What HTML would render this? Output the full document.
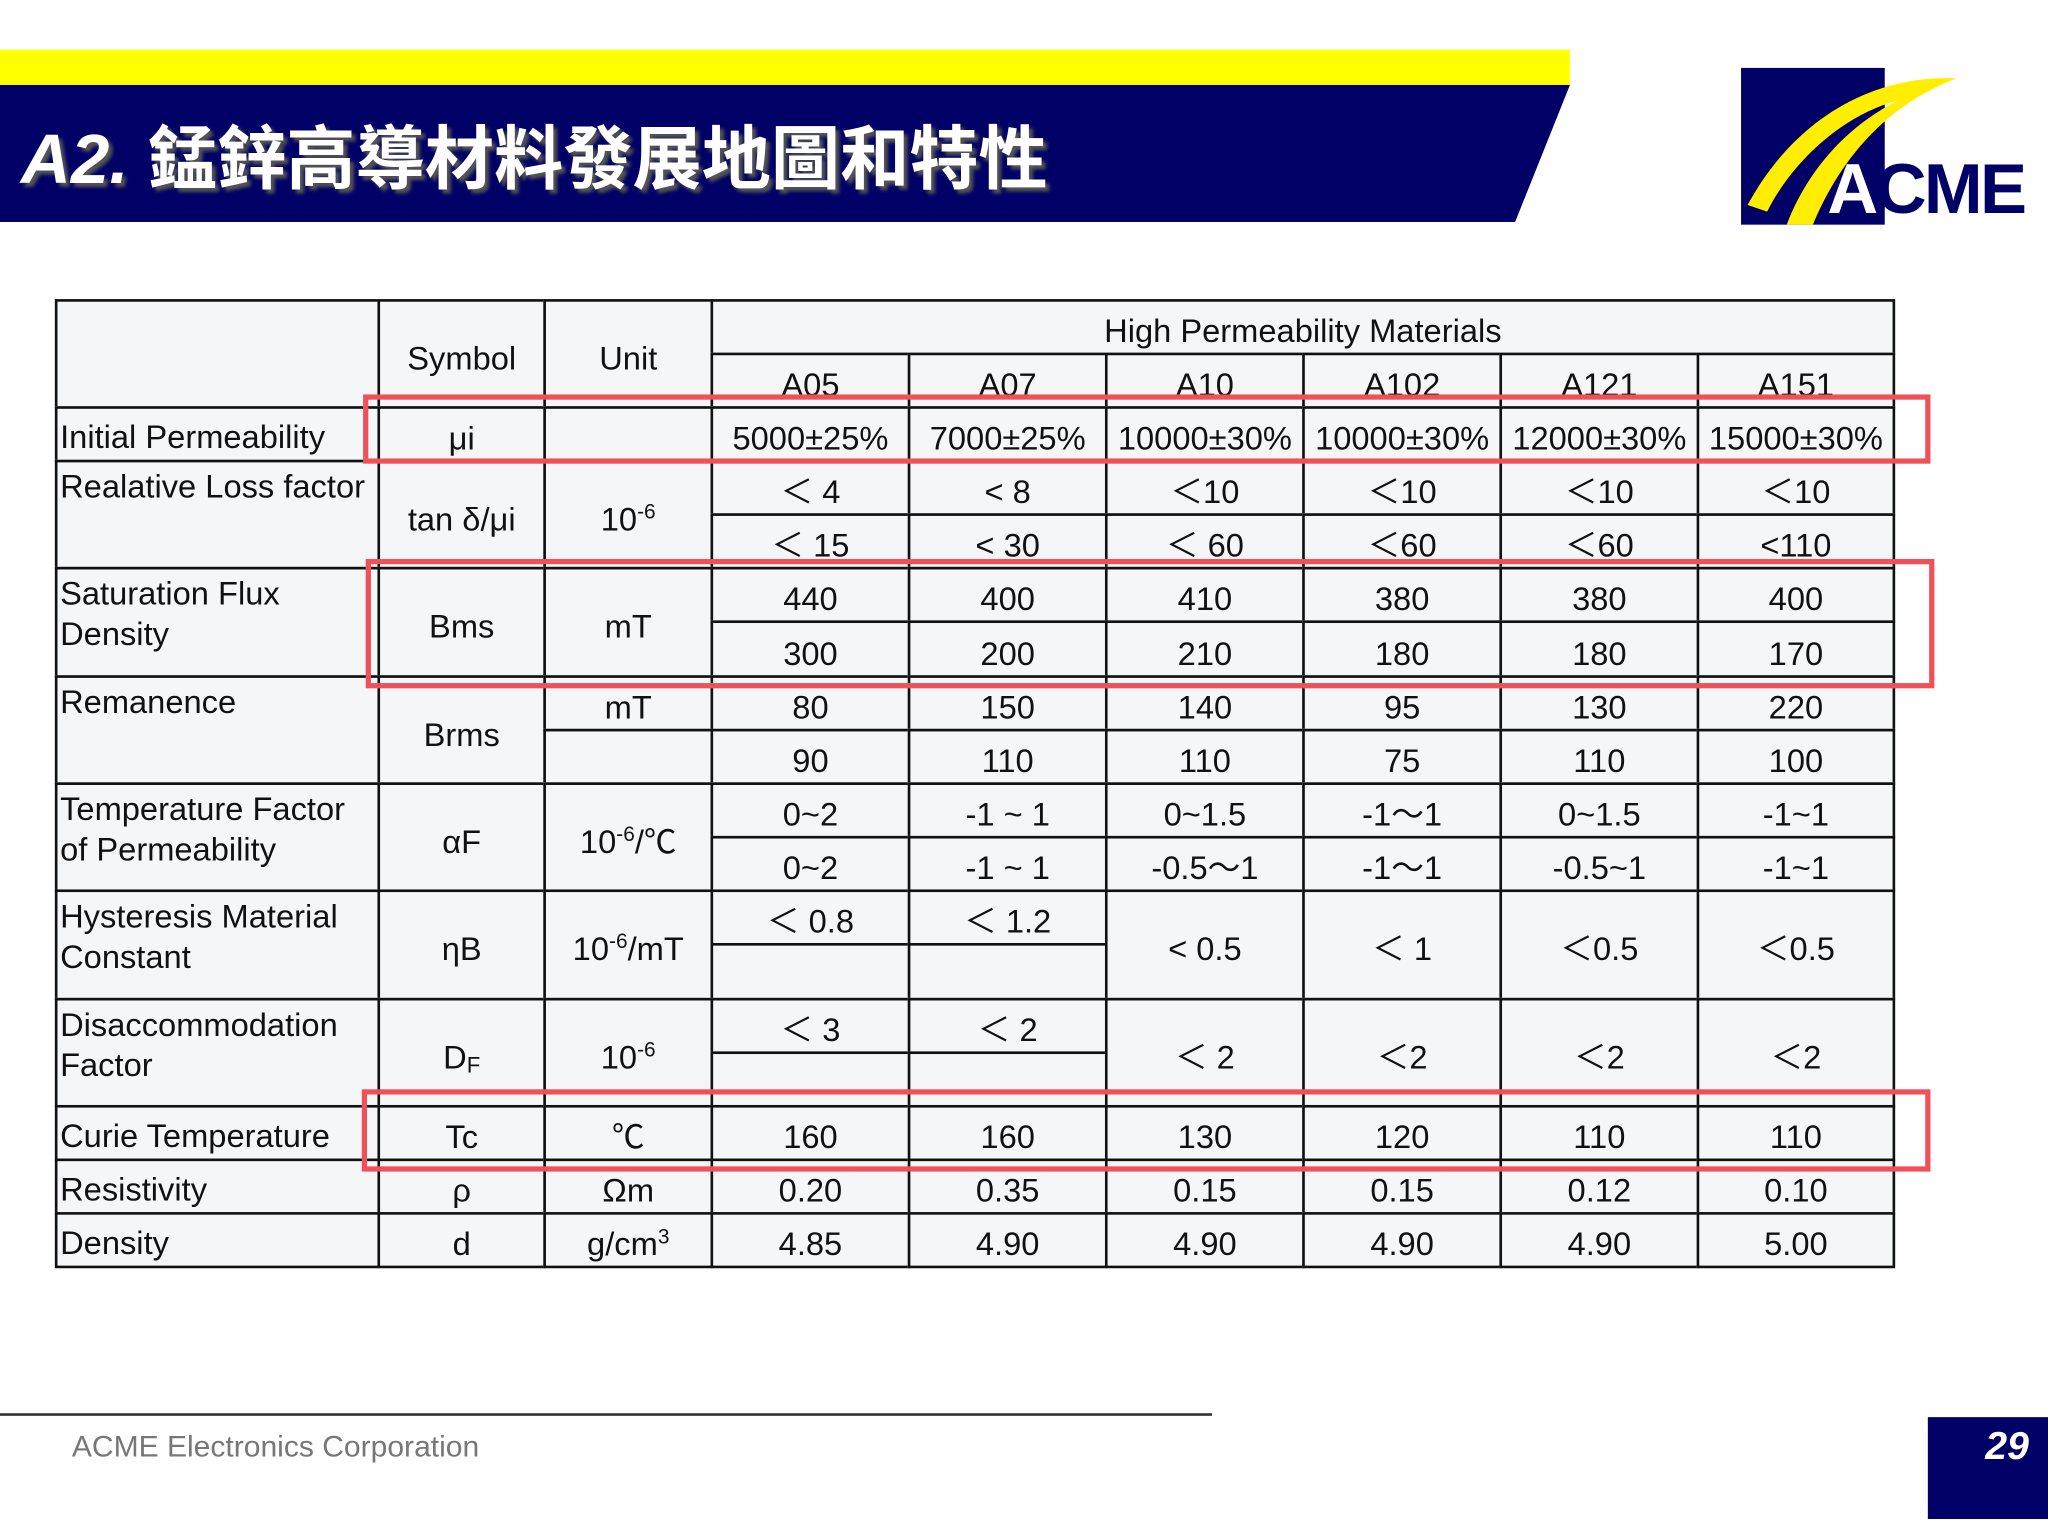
<!DOCTYPE html>
<html><head><meta charset="utf-8"><style>
html,body{margin:0;padding:0;background:#fff;width:2048px;height:1536px;overflow:hidden}
#s{position:absolute;left:0;top:0;width:1568px;height:1176px;transform:scale(1.306122);transform-origin:0 0;font-family:"Liberation Sans","Noto Sans CJK TC",sans-serif}
.c{position:absolute;box-sizing:border-box;border:2px solid #111;background:#f4f6f8;display:flex;justify-content:center;align-items:center;font-size:25px;color:#111;padding-top:8px;line-height:31px;white-space:nowrap;overflow:hidden}
.c.l{justify-content:flex-start;align-items:flex-start;padding:4px 0 0 2px;white-space:normal}
.c.l1{justify-content:flex-start;padding:6px 0 0 2px}
.r{position:absolute;border:4px solid #f05058;box-sizing:border-box}
sup{font-size:16px;vertical-align:9px;line-height:0}
sub{font-size:17px;vertical-align:-3px;line-height:0}
</style></head><body>
<div id="s">
<div style="position:absolute;left:0;top:38px;width:1202px;height:27px;background:#ffff00"></div>
<svg style="position:absolute;left:0;top:65px" width="1210" height="105"><polygon points="0,0 1202,0 1160,105 0,105" fill="#000066"/></svg>
<div style="position:absolute;left:16px;top:80px;color:#fff;font-size:53px;font-weight:bold;font-style:italic;text-shadow:3px 3px 3px #555;white-space:nowrap">A2. <span style="font-style:normal">錳鋅高導材料發展地圖和特性</span></div>
<div style="position:absolute;left:1333px;top:52px;width:220px;height:122px">
<div style="position:absolute;left:0;top:0;width:110px;height:120px;background:#000066"></div>
<svg style="position:absolute;left:0;top:0" width="220" height="122"><path d="M5,105 C40,40 100,5 165,8 C120,25 80,60 55,120 L35,120 C50,80 80,45 120,25 C80,35 40,70 20,110 Z" fill="#ffee00"/></svg>
<div style="position:absolute;left:66px;top:62px;font-size:54px;font-weight:bold;color:#fff;letter-spacing:-2px">A<span style="color:#000066">CME</span></div>
</div>
<div id="t"></div>
<div class="r" style="left:278px;top:302px;width:1200px;height:53px"></div>
<div class="r" style="left:280px;top:428px;width:1201px;height:99px"></div>
<div class="r" style="left:277px;top:834px;width:1201px;height:63px"></div>
<div style="position:absolute;left:0;top:1082px;width:928px;height:2px;background:#333"></div>
<div style="position:absolute;left:55px;top:1094px;font-size:23px;color:#777">ACME Electronics Corporation</div>
<div style="position:absolute;left:1476px;top:1085px;width:92px;height:78px;background:#000066;color:#fff;font-size:30px;font-weight:bold;font-style:italic;padding:6px 0 0 44px;box-sizing:border-box">29</div>
</div>
<script>
const X=[43,290,417,545,696,847,998,1149,1300,1450];
const Y=[230,271,312,353,394,435,476,518,559,600,641,682,723,765,806,847,888,929,970];
const cells=[
[0,1,0,2,"",""],[1,2,0,2,"Symbol",""],[2,3,0,2,"Unit",""],[3,9,0,1,"High Permeability Materials",""],
[3,4,1,2,"A05"],[4,5,1,2,"A07"],[5,6,1,2,"A10"],[6,7,1,2,"A102"],[7,8,1,2,"A121"],[8,9,1,2,"A151"],
[0,1,2,3,"Initial Permeability","l1"],[1,2,2,3,"μi"],[2,3,2,3,""],
[3,4,2,3,"5000±25%"],[4,5,2,3,"7000±25%"],[5,6,2,3,"10000±30%"],[6,7,2,3,"10000±30%"],[7,8,2,3,"12000±30%"],[8,9,2,3,"15000±30%"],
[0,1,3,5,"Realative Loss factor","l"],[1,2,3,5,"tan δ/μi"],[2,3,3,5,"10<sup>-6</sup>"],
[3,4,3,4,"＜ 4"],[4,5,3,4,"< 8"],[5,6,3,4,"＜10"],[6,7,3,4,"＜10"],[7,8,3,4,"＜10"],[8,9,3,4,"＜10"],
[3,4,4,5,"＜ 15"],[4,5,4,5,"< 30"],[5,6,4,5,"＜ 60"],[6,7,4,5,"＜60"],[7,8,4,5,"＜60"],[8,9,4,5,"<110"],
[0,1,5,7,"Saturation Flux<br>Density","l"],[1,2,5,7,"Bms"],[2,3,5,7,"mT"],
[3,4,5,6,"440"],[4,5,5,6,"400"],[5,6,5,6,"410"],[6,7,5,6,"380"],[7,8,5,6,"380"],[8,9,5,6,"400"],
[3,4,6,7,"300"],[4,5,6,7,"200"],[5,6,6,7,"210"],[6,7,6,7,"180"],[7,8,6,7,"180"],[8,9,6,7,"170"],
[0,1,7,9,"Remanence","l"],[1,2,7,9,"Brms"],[2,3,7,8,"mT"],[2,3,8,9,""],
[3,4,7,8,"80"],[4,5,7,8,"150"],[5,6,7,8,"140"],[6,7,7,8,"95"],[7,8,7,8,"130"],[8,9,7,8,"220"],
[3,4,8,9,"90"],[4,5,8,9,"110"],[5,6,8,9,"110"],[6,7,8,9,"75"],[7,8,8,9,"110"],[8,9,8,9,"100"],
[0,1,9,11,"Temperature Factor<br>of Permeability","l"],[1,2,9,11,"αF"],[2,3,9,11,"10<sup>-6</sup>/℃"],
[3,4,9,10,"0~2"],[4,5,9,10,"-1 ~ 1"],[5,6,9,10,"0~1.5"],[6,7,9,10,"-1～1"],[7,8,9,10,"0~1.5"],[8,9,9,10,"-1~1"],
[3,4,10,11,"0~2"],[4,5,10,11,"-1 ~ 1"],[5,6,10,11,"-0.5～1"],[6,7,10,11,"-1～1"],[7,8,10,11,"-0.5~1"],[8,9,10,11,"-1~1"],
[0,1,11,13,"Hysteresis Material<br>Constant","l"],[1,2,11,13,"ηB"],[2,3,11,13,"10<sup>-6</sup>/mT"],
[3,4,11,12,"＜ 0.8"],[4,5,11,12,"＜ 1.2"],[3,4,12,13,""],[4,5,12,13,""],
[5,6,11,13,"< 0.5"],[6,7,11,13,"＜ 1"],[7,8,11,13,"＜0.5"],[8,9,11,13,"＜0.5"],
[0,1,13,15,"Disaccommodation<br>Factor","l"],[1,2,13,15,"D<sub>F</sub>"],[2,3,13,15,"10<sup>-6</sup>"],
[3,4,13,14,"＜ 3"],[4,5,13,14,"＜ 2"],[3,4,14,15,""],[4,5,14,15,""],
[5,6,13,15,"＜ 2"],[6,7,13,15,"＜2"],[7,8,13,15,"＜2"],[8,9,13,15,"＜2"],
[0,1,15,16,"Curie Temperature","l1"],[1,2,15,16,"Tc"],[2,3,15,16,"℃"],
[3,4,15,16,"160"],[4,5,15,16,"160"],[5,6,15,16,"130"],[6,7,15,16,"120"],[7,8,15,16,"110"],[8,9,15,16,"110"],
[0,1,16,17,"Resistivity","l1"],[1,2,16,17,"ρ"],[2,3,16,17,"Ωm"],
[3,4,16,17,"0.20"],[4,5,16,17,"0.35"],[5,6,16,17,"0.15"],[6,7,16,17,"0.15"],[7,8,16,17,"0.12"],[8,9,16,17,"0.10"],
[0,1,17,18,"Density","l1"],[1,2,17,18,"d"],[2,3,17,18,"g/cm<sup>3</sup>"],
[3,4,17,18,"4.85"],[4,5,17,18,"4.90"],[5,6,17,18,"4.90"],[6,7,17,18,"4.90"],[7,8,17,18,"4.90"],[8,9,17,18,"5.00"]
];
const t=document.getElementById('t');
cells.forEach(c=>{
  const d=document.createElement('div');
  d.className='c '+(c[5]||'');
  
  
  d.style.left=(X[c[0]]-1)+'px';d.style.top=(Y[c[2]]-1)+'px';
  d.style.width=(X[c[1]]-X[c[0]]+2)+'px';d.style.height=(Y[c[3]]-Y[c[2]]+2)+'px';
  d.innerHTML='<span>'+c[4]+'</span>';
  t.appendChild(d);
});
</script>
</body></html>
